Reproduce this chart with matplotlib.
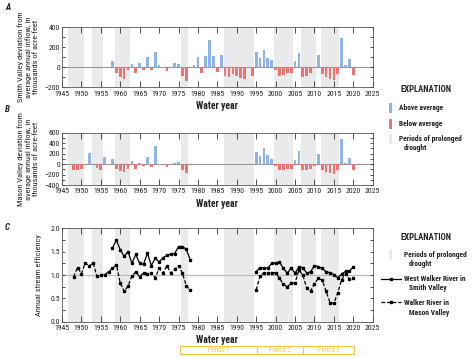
import matplotlib
matplotlib.use("Agg")
import matplotlib.pyplot as plt
from matplotlib.patches import Rectangle
from matplotlib.lines import Line2D
from matplotlib import font_manager as fm
import numpy as np

# pick a condensed family if installed
COND = None
for fam in ['Liberation Sans Narrow', 'DejaVu Sans Condensed', 'Roboto Condensed', 'Open Sans Condensed']:
    try:
        fm.findfont(fm.FontProperties(family=fam), fallback_to_default=False)
        COND = fam
        break
    except Exception:
        pass
if COND:
    plt.rcParams['font.family'] = [COND, 'Liberation Sans', 'DejaVu Sans']
    K = 1.0
else:
    plt.rcParams['font.family'] = ['Liberation Sans', 'DejaVu Sans']
    K = 0.8

# ---------------- data ----------------
smith_years = list(range(1958, 2021))
smith_dev = [60, -53, -93, -113, -27, 33, -57, 43, -23, 100, -30, 153, 17, 0, -33, 0, 43, 33,
             -90, -137, 0, 20, 100, -60, 113, 267, 110, -45, 118, -83, -98, -72, -90, -103, -117,
             0, -87, 148, 90, 170, 93, 67, -30, -83, -80, -53, -57, 63, 138, -93, -87, -57, 0,
             121, -70, -93, -117, -127, -63, 293, 23, 80, -80]

mason_years = list(range(1948, 2021))
mason_dev = [-121, -121, -102, 0, 204, 0, -70, -121, 140, -13, 89, -89, -134, -153, -102, 51,
             -102, 19, -32, 134, -51, 338, 0, -10, -64, 0, 25, 38, -115, -172, -25,
             0, 0, 0, 0, 0, 0, 0, 0, 0, 0, 0, 0, 0, 0, 0, 0,
             229, 153, 306, 166, 96, -38, -108, -121, -96, -102, 76, 242, -121, -108, -89, -32,
             197, -115, -147, -172, -185, -115, 478, 13, 121, -115]

drought_periods = [(1946.6, 1950.6), (1952.6, 1955.6), (1958.7, 1962.6), (1975.6, 1977.5),
                   (1986.6, 1994.4), (1999.6, 2004.4), (2006.6, 2010.5), (2011.6, 2016.4)]

eff_years_1 = list(range(1948, 1979))
mason_eff_1 = [0.96, 1.16, 1.03, 1.26, 1.19, 1.26, 0.97, 1.01, 1.01, 1.07, 1.14, 1.22, 0.83,
               0.65, 0.76, 0.98, 1.07, 0.96, 1.05, 1.03, 1.05, 0.94, 1.14, 1.04, 1.20, 1.04,
               1.12, 1.20, 1.04, 0.77, 0.67]
smith_eff_years_1 = list(range(1958, 1979))
smith_eff_1 = [1.58, 1.75, 1.54, 1.40, 1.50, 1.25, 1.44, 1.25, 1.23, 1.47, 1.20, 1.36, 1.28,
               1.37, 1.42, 1.45, 1.46, 1.61, 1.61, 1.55, 1.33]
eff_years_2 = list(range(1995, 2021))
smith_eff_2 = [1.07, 1.16, 1.15, 1.15, 1.25, 1.25, 1.28, 1.14, 1.04, 1.15, 1.04, 1.17, 1.16,
               1.04, 1.07, 1.20, 1.18, 1.14, 1.07, 1.05, 1.01, 0.94, 1.02, 1.08, 1.09, 1.17]
mason_eff_2 = [0.68, 0.98, 1.05, 1.05, 1.04, 1.05, 0.93, 0.80, 0.75, 0.82, 0.83, 1.10, 1.00,
               0.72, 0.66, 0.81, 0.93, 0.89, 0.65, 0.41, 0.39, 0.62, 0.90, 1.03, 0.91, 0.94]

periods = [("Period 1", 1975.5, 1995.2), ("Period 2", 1995.2, 2007.1), ("Period 3", 2007.1, 2020.2)]

x_ticks = list(range(1945, 2030, 5))

# ---------------- style ----------------
BLUE = '#8fb4ea'
RED = '#e87474'
GRAY = '#e9eaeb'
TXT = '#222222'
YEL = '#f5c842'

FS_TICK = 5.6 * K
FS_YLAB = 6.0 * K
FS_XLAB = 7.0 * K
FS_LEG = 5.4 * K
FS_EXPL = 6.2 * K

W, H = 474, 358
fig = plt.figure(figsize=(W / 100, H / 100), dpi=100)


def fx(px):
    return px / W


def fy(py):
    return 1 - py / H


def make_ax(top, bottom):
    return fig.add_axes([fx(62), fy(bottom), fx(372.7) - fx(62), fy(top) - fy(bottom)])


def style_ax(ax, ymin, ymax, major, minor, fmt):
    ax.set_xlim(1945, 2025)
    ax.set_ylim(ymin, ymax)
    ax.set_xticks(x_ticks)
    ax.set_xticklabels([str(t) for t in x_ticks])
    ticks = np.arange(ymin, ymax + minor / 2, major)
    ax.set_yticks(ticks)
    ax.set_yticklabels([fmt(v) for v in ticks])
    ax.set_yticks(np.arange(ymin, ymax + minor / 2, minor), minor=True)
    ax.tick_params(axis='both', which='both', direction='in', top=True, right=True,
                   labelsize=FS_TICK, colors='#333333', width=0.6)
    ax.tick_params(axis='x', which='major', length=4, pad=2.5)
    ax.tick_params(axis='y', which='both', length=2.5, pad=1.5)
    for s in ax.spines.values():
        s.set_linewidth(0.6)
        s.set_color('#555555')
    for lab in ax.get_xticklabels() + ax.get_yticklabels():
        lab.set_color(TXT)
    for a, b in drought_periods:
        ax.axvspan(a, b, color=GRAY, lw=0, zorder=0)


def neg(v):
    return f'\u2212{int(-v)}' if v < 0 else f'{int(v)}'


# Panel A
axA = make_ax(27, 87.3)
style_ax(axA, -200, 400, 200, 100, neg)
axA.axhline(0, color='#999999', lw=0.8, zorder=1)
axA.bar(smith_years, smith_dev, width=0.7,
        color=[BLUE if v >= 0 else RED for v in smith_dev], zorder=2)
axA.set_ylabel('Smith Valley deviation from\naverage annual inflow, in\nthousands of acre-feet',
               fontsize=FS_YLAB, color=TXT, labelpad=4, linespacing=1.2)
axA.set_xlabel('Water year', fontsize=FS_XLAB, fontweight='bold', color=TXT, labelpad=3)

# Panel B
axB = make_ax(132.7, 185)
style_ax(axB, -400, 600, 200, 100, neg)
axB.axhline(0, color='#999999', lw=0.8, zorder=1)
axB.bar(mason_years, mason_dev, width=0.7,
        color=[BLUE if v >= 0 else RED for v in mason_dev], zorder=2)
axB.set_ylabel('Mason Valley deviation from\naverage annual inflow, in\nthousands of acre-feet',
               fontsize=FS_YLAB, color=TXT, labelpad=4, linespacing=1.2)
axB.set_xlabel('Water year', fontsize=FS_XLAB, fontweight='bold', color=TXT, labelpad=3)

# Panel C
axC = make_ax(228.3, 321.7)
style_ax(axC, 0, 2.0, 0.5, 0.25, lambda v: f'{v:.1f}')
axC.axhline(1.0, color='#bbbbbb', lw=0.9, zorder=1)
lk = dict(color='black', marker='s', markersize=1.8, zorder=3)
axC.plot(smith_eff_years_1, smith_eff_1, lw=0.9, ls='-', **lk)
axC.plot(eff_years_2, smith_eff_2, lw=0.9, ls='-', **lk)
axC.plot(eff_years_1, mason_eff_1, lw=0.9, ls=(0, (3, 1.5)), **lk)
axC.plot(eff_years_2, mason_eff_2, lw=0.9, ls=(0, (3, 1.5)), **lk)
axC.set_ylabel('Annual stream efficiency', fontsize=FS_YLAB, color=TXT, labelpad=6)
axC.set_xlabel('Water year', fontsize=FS_XLAB, fontweight='bold', color=TXT, labelpad=3)

# Period boxes under panel C
trans = axC.get_xaxis_transform()
for name, a, b in periods:
    axC.add_patch(Rectangle((a, -0.349), b - a, 0.092, transform=trans, clip_on=False,
                            facecolor='none', edgecolor=YEL, lw=0.8))
    axC.text((a + b) / 2, -0.303, name, transform=trans, ha='center', va='center',
             fontsize=4.8 * K, color='#f0c850', clip_on=False)

# Panel letters
for letter, py in [('A', 7), ('B', 109), ('C', 227)]:
    fig.text(fx(5), fy(py), letter, fontsize=6.5 * K, fontweight='bold', fontstyle='italic',
             color=TXT, va='center', ha='left')


def legend_text(px, py, txt):
    fig.text(fx(px), fy(py), txt, fontsize=FS_LEG, fontweight='bold', color=TXT,
             va='baseline', ha='left')


def swatch(py, c):
    fig.patches.append(Rectangle((fx(388.5), fy(py + 5)), fx(3.5), 10 / H,
                                 transform=fig.transFigure, facecolor=c, edgecolor='none'))


# Explanation 1
fig.text(fx(400.5), fy(89), 'EXPLANATION', fontsize=FS_EXPL, fontweight='bold', color=TXT,
         va='center', ha='left')
swatch(108.3, BLUE)
legend_text(399, 110.3, 'Above average')
swatch(124.3, RED)
legend_text(399, 126.3, 'Below average')
swatch(139.3, GRAY)
legend_text(399, 141.3, 'Periods of prolonged')
legend_text(404, 150.3, 'drought')

# Explanation 2
fig.text(fx(400.5), fy(237.3), 'EXPLANATION', fontsize=FS_EXPL, fontweight='bold', color=TXT,
         va='center', ha='left')
swatch(255, GRAY)
legend_text(404, 257, 'Periods of prolonged')
legend_text(409, 266, 'drought')
fig.lines.append(Line2D([fx(381), fx(400.5)], [fy(279), fy(279)], transform=fig.transFigure,
                        color='black', lw=0.9))
fig.lines.append(Line2D([fx(390.7)], [fy(279)], transform=fig.transFigure,
                        color='black', marker='s', markersize=1.8, lw=0))
legend_text(404, 281, 'West Walker River in')
legend_text(409, 290.3, 'Smith Valley')
fig.lines.append(Line2D([fx(381), fx(400.5)], [fy(302.3), fy(302.3)], transform=fig.transFigure,
                        color='black', lw=0.9, ls=(0, (3, 1.5))))
fig.lines.append(Line2D([fx(390.7)], [fy(302.3)], transform=fig.transFigure,
                        color='black', marker='s', markersize=1.8, lw=0))
legend_text(404, 305.3, 'Walker River in')
legend_text(409, 314.6, 'Mason Valley')

fig.savefig('out.png', dpi=100)
